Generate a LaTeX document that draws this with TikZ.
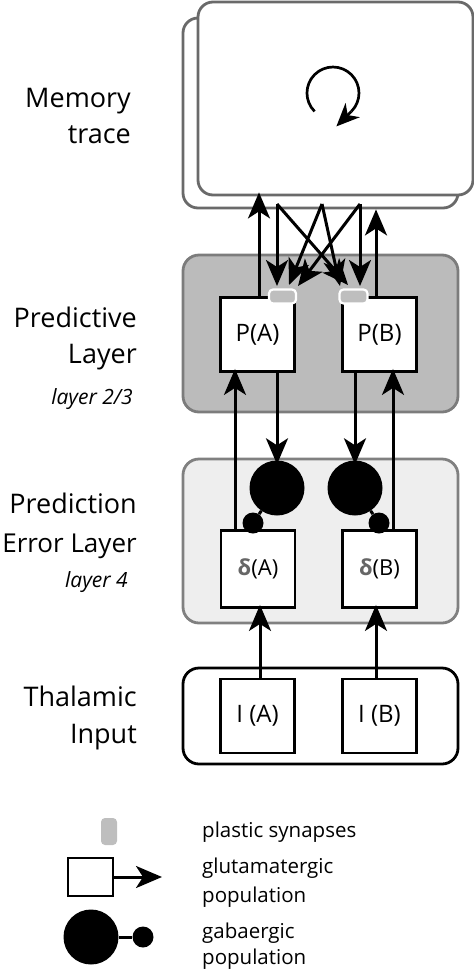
\documentclass[tikz,border=0pt]{standalone}
\usepackage{fontspec}
\setmainfont{Open Sans}
\usetikzlibrary{arrows.meta}
\definecolor{predfill}{HTML}{BBBBBB}
\definecolor{predline}{HTML}{7C7C7C}
\definecolor{errfill}{HTML}{EEEEEE}
\definecolor{errline}{HTML}{808080}
\definecolor{memline}{HTML}{6A6A6A}
\definecolor{synfill}{HTML}{BEBEBE}
\definecolor{deltagray}{HTML}{666666}
\begin{document}
\begin{tikzpicture}[x=1pt,y=-1pt,
  layerbox/.style={draw, rounded corners=16pt, line width=2.8pt, inner sep=0pt},
  membox/.style={draw=memline, fill=white, rounded corners=15pt, line width=2.8pt, minimum width=275pt, inner sep=0pt},
  popbox/.style={draw, fill=white, line width=2.8pt, minimum width=74pt, minimum height=74pt, inner sep=0pt, font=\fontsize{24}{24}\selectfont},
  conn/.style={line width=3pt, -{Stealth[length=26pt,width=22pt,inset=7pt]}},
  into/.style={conn, shorten >=-4pt},
  plain/.style={line width=3pt},
  bigcirc/.style={circle, fill=black, minimum size=55pt, inner sep=0pt},
  smallcirc/.style={circle, fill=black, minimum size=21pt, inner sep=0pt},
  synapse/.style={draw=white, fill=synfill, line width=2.2pt, rounded corners=4pt, minimum height=14pt, inner sep=0pt},
  lbl/.style={anchor=base east, inner sep=0pt, font=\fontsize{27}{27}\selectfont},
  sublbl/.style={anchor=base east, inner sep=0pt, font=\fontsize{21}{21}\selectfont\itshape},
  leg/.style={anchor=base west, inner sep=0pt, font=\fontsize{20.5}{20.5}\selectfont}]
\useasboundingbox (0,0) rectangle (474,970);

% memory trace
\node[membox, minimum height=190pt] (memb) at (320.5,113) {};
\node[membox, minimum height=193pt] (memf) at (335.5,98.5) {};
\coordinate (loopstart) at (314.6,111.4);
\draw[line width=2.7pt] (loopstart) arc[start angle=225, end angle=-45, radius=26pt] coordinate (loopend);
\draw[line width=2.7pt, -{Stealth[length=23pt,width=20pt,inset=7pt]}] (loopend) -- ++(-15,15);

% layers
\node[layerbox, draw=predline, fill=predfill, minimum width=275pt, minimum height=157pt] (pred) at (320.5,333.5) {};
\node[layerbox, draw=errline, fill=errfill, minimum width=275pt, minimum height=164pt] (err) at (320.5,541) {};
\node[layerbox, draw=black, fill=white, minimum width=275pt, minimum height=96pt] (thal) at (320.5,716) {};

% populations
\node[popbox] (pa) at (257.5,334.5) {P(A)};
\node[popbox] (pb) at (379.5,334.5) {P(B)};
\node[popbox, minimum height=77pt, font=\fontsize{22}{22}\selectfont] (da) at (258,569) {\textbf{\color{deltagray}δ}(A)};
\node[popbox, minimum height=77pt, font=\fontsize{22}{22}\selectfont] (db) at (379.5,569) {\textbf{\color{deltagray}δ}(B)};
\node[popbox] (ia) at (257.5,716) {I (A)};
\node[popbox] (ib) at (379.5,716) {I (B)};

% gabaergic
\node[bigcirc] (ga) at (277,488) {};
\node[bigcirc] (gb) at (355,488) {};
\node[smallcirc] (sa) at (253,523) {};
\node[smallcirc] (sb) at (379,523) {};
\draw[plain] (ga) -- (sa);
\draw[plain] (gb) -- (sb);

% feedforward
\draw[into] ([xshift=2.5pt]ia.north) -- ([xshift=2.5pt]ia.north |- da.south);
\draw[into] ([xshift=-3.5pt]ib.north) -- ([xshift=-3.5pt]ib.north |- db.south);
\draw[into] ([xshift=-23pt]da.north) -- ([xshift=-23pt]da.north |- pa.south);
\draw[into] ([xshift=13.5pt]db.north) -- ([xshift=13.5pt]db.north |- pb.south);
\draw[into] ([xshift=19.5pt]pa.south) -- (ga.north);
\draw[into] ([xshift=-24.5pt]pb.south) -- (gb.north);
\draw[into] ([xshift=1.5pt]pa.north) -- ([xshift=1.5pt]pa.north |- memf.south);
\draw[conn] ([xshift=-3.5pt]pb.north) -- ([xshift=-3.5pt]pb.north |- memb.south);

% memory to predictive
\coordinate (mL) at (277,204);
\coordinate (mM) at (322,204);
\coordinate (mR) at (360,204);
\coordinate (tAL) at (277,286);
\coordinate (tAM) at (289,285);
\coordinate (tAR) at (298,286);
\coordinate (tBL) at (340,286);
\coordinate (tBM) at (348,285);
\coordinate (tBR) at (360,286);
\draw[conn] (mL) -- (tAL);
\draw[conn] (mL) -- (tBM);
\draw[conn] (mM) -- (tAM);
\draw[conn] (mM) -- (tBL);
\draw[conn] (mR) -- (tBR);
\draw[conn] (mR) -- (tAR);

% plastic synapses
\node[synapse, minimum width=27pt] (syna) at (282.5,296.5) {};
\node[synapse, minimum width=28pt] (synb) at (353.5,296.5) {};

% labels
\node[lbl] (l1) at (131,107) {Memory};
\node[lbl] (l2) at (131,143) {trace};
\node[lbl] (l3) at (137,327) {Predictive};
\node[lbl] (l4) at (137,363) {Layer};
\node[sublbl] (l5) at (133,404) {layer 2/3};
\node[lbl] (l6) at (137,513) {Prediction};
\node[lbl, font=\fontsize{26}{26}\selectfont] (l7) at (137,552) {Error Layer};
\node[sublbl] (l8) at (128,587) {layer 4};
\node[lbl] (l9) at (137,706) {Thalamic};
\node[lbl] (l10) at (137,743) {Input};

% legend
\node[fill=synfill, rounded corners=4pt, minimum width=16pt, minimum height=27pt, inner sep=0pt] (legsyn) at (109,831.5) {};
\node[draw, line width=2.8pt, minimum width=45pt, minimum height=38pt, inner sep=0pt] (legbox) at (90.5,877) {};
\coordinate (legarrowend) at (162,877);
\draw[conn] (legbox.east) -- (legarrowend);
\node[bigcirc] (legbig) at (91,937) {};
\node[smallcirc] (legsmall) at (143,937) {};
\draw[plain] (legbig) -- (legsmall);
\node[leg] (t1) at (202,837) {plastic synapses};
\node[leg] (t2) at (202,873) {glutamatergic};
\node[leg] (t3) at (202,902) {population};
\node[leg] (t4) at (202,938) {gabaergic};
\node[leg] (t5) at (202,964) {population};
\end{tikzpicture}
\end{document}
